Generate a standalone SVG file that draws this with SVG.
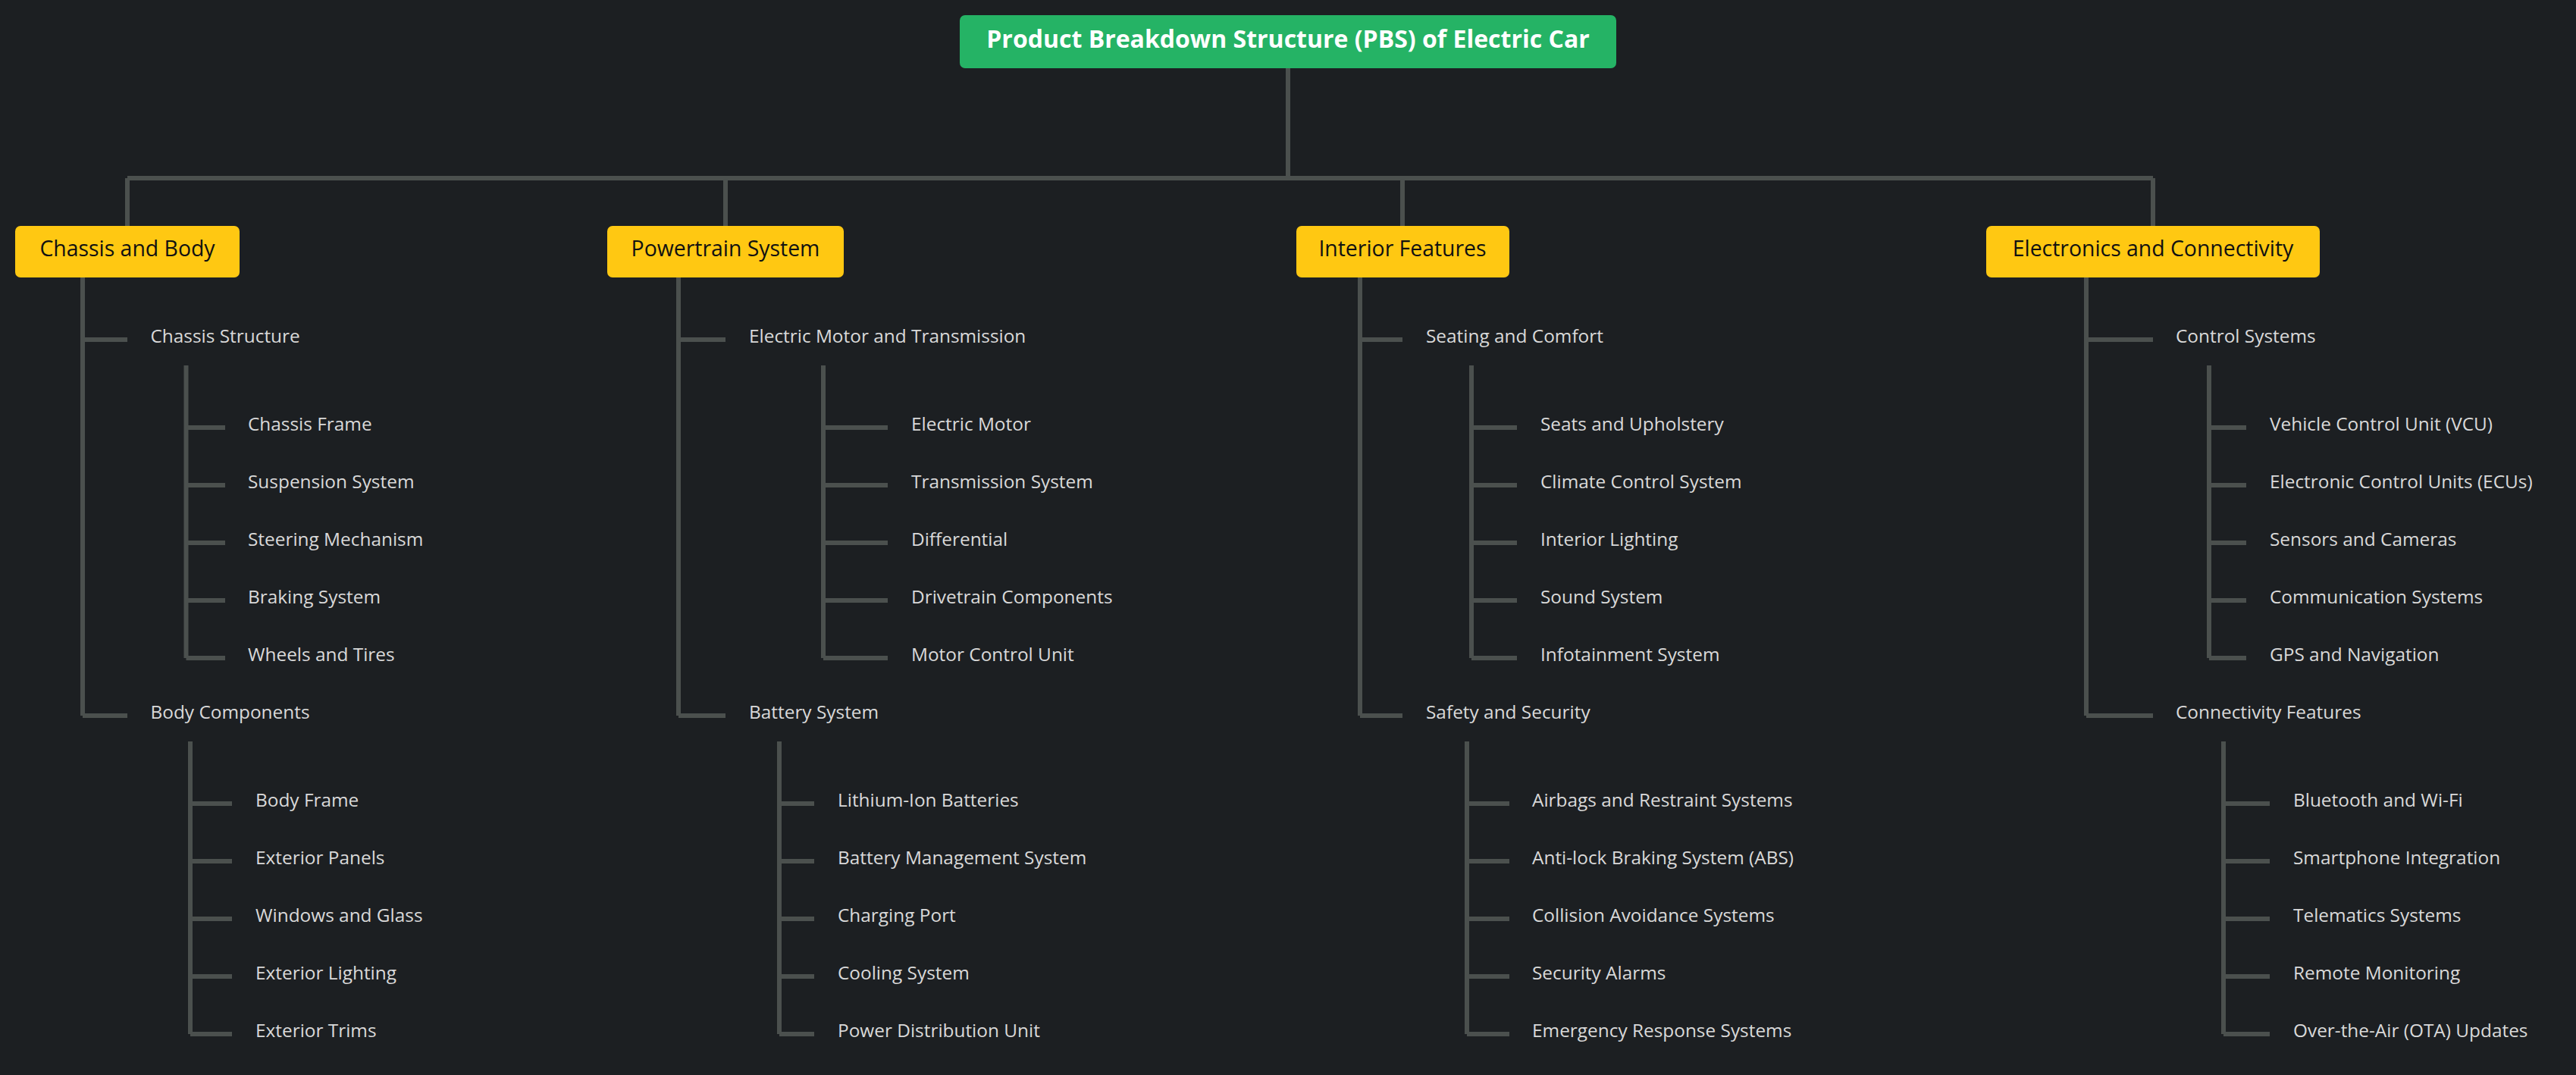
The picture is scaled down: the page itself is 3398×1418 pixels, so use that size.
<svg xmlns="http://www.w3.org/2000/svg" width="3398" height="1418" viewBox="0 0 3398 1418">
<style>
.bg{fill:#1c1f22}
.ln{fill:none;stroke:#4b504e;stroke-width:6;stroke-linecap:butt}
.root{fill:#25b365}
.l1{fill:#ffc812}
.tr{font-family:"Open Sans","Noto Sans",sans-serif;font-weight:700;font-size:32px;fill:#ffffff;text-anchor:middle}
.t1{font-family:"Open Sans","Noto Sans",sans-serif;font-size:28.4px;fill:#111111;text-anchor:middle}
.t2{font-family:"Open Sans","Noto Sans",sans-serif;font-size:24.4px;fill:#d9d9d9}
</style>
<rect class="bg" x="0" y="0" width="3398" height="1418"/>
<g id="connectors">
<path class="ln" d="M1699 90V235M168 235H2840M168 235V298M957 235V298M1850 235V298M2840 235V298"/>
<path class="ln" d="M109 366V944M109 448H168M109 944H168M895 366V944M895 448H957M895 944H957M1794 366V944M1794 448H1850M1794 944H1850M2752 366V944M2752 448H2840M2752 944H2840"/>
<path class="ln" d="M245.5 482V868M245.5 564H297M245.5 640H297M245.5 716H297M245.5 792H297M245.5 868H297"/>
<path class="ln" d="M251 978V1364M251 1060H306M251 1136H306M251 1212H306M251 1288H306M251 1364H306"/>
<path class="ln" d="M1086 482V868M1086 564H1171M1086 640H1171M1086 716H1171M1086 792H1171M1086 868H1171"/>
<path class="ln" d="M1028 978V1364M1028 1060H1074M1028 1136H1074M1028 1212H1074M1028 1288H1074M1028 1364H1074"/>
<path class="ln" d="M1941 482V868M1941 564H2001M1941 640H2001M1941 716H2001M1941 792H2001M1941 868H2001"/>
<path class="ln" d="M1935 978V1364M1935 1060H1991M1935 1136H1991M1935 1212H1991M1935 1288H1991M1935 1364H1991"/>
<path class="ln" d="M2914 482V868M2914 564H2963M2914 640H2963M2914 716H2963M2914 792H2963M2914 868H2963"/>
<path class="ln" d="M2933 978V1364M2933 1060H2994M2933 1136H2994M2933 1212H2994M2933 1288H2994M2933 1364H2994"/>
</g>
<g id="root"><rect class="root" x="1266" y="20" width="866" height="70" rx="7"/><text class="tr" x="1699" y="63">Product Breakdown Structure (PBS) of Electric Car</text></g>
<g id="chassis-body"><rect class="l1" x="20" y="298" width="296" height="68" rx="7"/><text class="t1" x="168" y="337.5">Chassis and Body</text></g>
<g id="powertrain"><rect class="l1" x="801" y="298" width="312" height="68" rx="7"/><text class="t1" x="957" y="337.5">Powertrain System</text></g>
<g id="interior"><rect class="l1" x="1710" y="298" width="281" height="68" rx="7"/><text class="t1" x="1850" y="337.5">Interior Features</text></g>
<g id="electronics"><rect class="l1" x="2620" y="298" width="440" height="68" rx="7"/><text class="t1" x="2840" y="337.5">Electronics and Connectivity</text></g>
<g id="chassis-structure"><text class="t2" x="198.5" y="451.5">Chassis Structure</text></g>
<g id="chassis-items">
<text class="t2" x="327" y="567.5">Chassis Frame</text>
<text class="t2" x="327" y="643.5">Suspension System</text>
<text class="t2" x="327" y="719.5">Steering Mechanism</text>
<text class="t2" x="327" y="795.5">Braking System</text>
<text class="t2" x="327" y="871.5">Wheels and Tires</text>
</g>
<g id="body-components"><text class="t2" x="198.5" y="947.5">Body Components</text></g>
<g id="body-items">
<text class="t2" x="337" y="1063.5">Body Frame</text>
<text class="t2" x="337" y="1139.5">Exterior Panels</text>
<text class="t2" x="337" y="1215.5">Windows and Glass</text>
<text class="t2" x="337" y="1291.5">Exterior Lighting</text>
<text class="t2" x="337" y="1367.5">Exterior Trims</text>
</g>
<g id="emt"><text class="t2" x="988" y="451.5">Electric Motor and Transmission</text></g>
<g id="emt-items">
<text class="t2" x="1202" y="567.5">Electric Motor</text>
<text class="t2" x="1202" y="643.5">Transmission System</text>
<text class="t2" x="1202" y="719.5">Differential</text>
<text class="t2" x="1202" y="795.5">Drivetrain Components</text>
<text class="t2" x="1202" y="871.5">Motor Control Unit</text>
</g>
<g id="battery"><text class="t2" x="988" y="947.5">Battery System</text></g>
<g id="battery-items">
<text class="t2" x="1105" y="1063.5">Lithium-Ion Batteries</text>
<text class="t2" x="1105" y="1139.5">Battery Management System</text>
<text class="t2" x="1105" y="1215.5">Charging Port</text>
<text class="t2" x="1105" y="1291.5">Cooling System</text>
<text class="t2" x="1105" y="1367.5">Power Distribution Unit</text>
</g>
<g id="seating"><text class="t2" x="1881" y="451.5">Seating and Comfort</text></g>
<g id="seating-items">
<text class="t2" x="2032" y="567.5">Seats and Upholstery</text>
<text class="t2" x="2032" y="643.5">Climate Control System</text>
<text class="t2" x="2032" y="719.5">Interior Lighting</text>
<text class="t2" x="2032" y="795.5">Sound System</text>
<text class="t2" x="2032" y="871.5">Infotainment System</text>
</g>
<g id="safety"><text class="t2" x="1881" y="947.5">Safety and Security</text></g>
<g id="safety-items">
<text class="t2" x="2021" y="1063.5">Airbags and Restraint Systems</text>
<text class="t2" x="2021" y="1139.5">Anti-lock Braking System (ABS)</text>
<text class="t2" x="2021" y="1215.5">Collision Avoidance Systems</text>
<text class="t2" x="2021" y="1291.5">Security Alarms</text>
<text class="t2" x="2021" y="1367.5">Emergency Response Systems</text>
</g>
<g id="control"><text class="t2" x="2870" y="451.5">Control Systems</text></g>
<g id="control-items">
<text class="t2" x="2994" y="567.5">Vehicle Control Unit (VCU)</text>
<text class="t2" x="2994" y="643.5">Electronic Control Units (ECUs)</text>
<text class="t2" x="2994" y="719.5">Sensors and Cameras</text>
<text class="t2" x="2994" y="795.5">Communication Systems</text>
<text class="t2" x="2994" y="871.5">GPS and Navigation</text>
</g>
<g id="connectivity"><text class="t2" x="2870" y="947.5">Connectivity Features</text></g>
<g id="connectivity-items">
<text class="t2" x="3025" y="1063.5">Bluetooth and Wi-Fi</text>
<text class="t2" x="3025" y="1139.5">Smartphone Integration</text>
<text class="t2" x="3025" y="1215.5">Telematics Systems</text>
<text class="t2" x="3025" y="1291.5">Remote Monitoring</text>
<text class="t2" x="3025" y="1367.5">Over-the-Air (OTA) Updates</text>
</g>
</svg>
